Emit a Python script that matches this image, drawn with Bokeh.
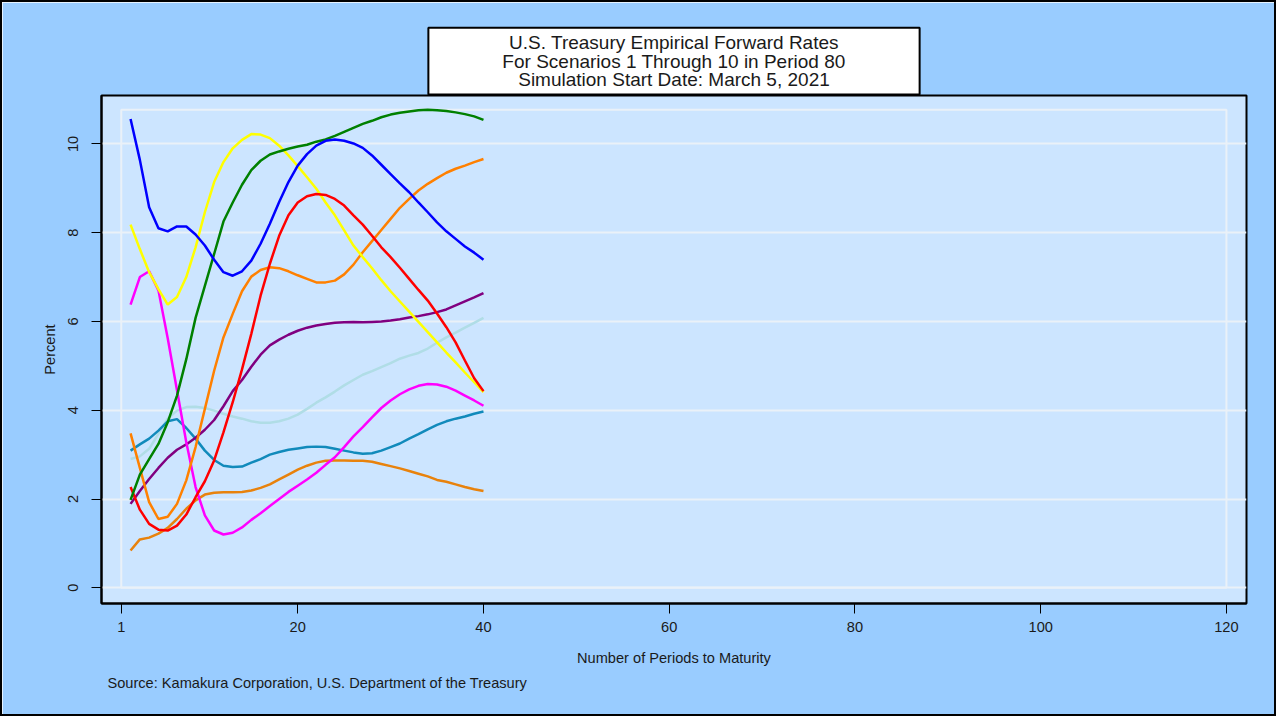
from bokeh.plotting import figure
from bokeh.models import FixedTicker, Title, Range1d
from bokeh.embed import file_html
from bokeh.resources import INLINE

# Forward rate curves for ten scenarios, periods 2..40
periods = list(range(2, 41))

scen_blue = [10.56, 9.64, 8.57, 8.10, 8.03, 8.14, 8.14, 7.96, 7.71, 7.39,
             7.11, 7.03, 7.13, 7.37, 7.75, 8.20, 8.69, 9.14, 9.51, 9.77,
             9.96, 10.07, 10.10, 10.07, 10.01, 9.91, 9.74, 9.53, 9.32, 9.11,
             8.91, 8.68, 8.46, 8.23, 8.03, 7.86, 7.69, 7.55, 7.39]
scen_yellow = [8.18, 7.63, 7.11, 6.73, 6.38, 6.55, 7.00, 7.67, 8.46, 9.14,
               9.59, 9.90, 10.09, 10.22, 10.21, 10.13, 9.96, 9.74, 9.50, 9.25,
               8.99, 8.68, 8.39, 8.05, 7.71, 7.45, 7.20, 6.93, 6.68, 6.45,
               6.22, 5.99, 5.76, 5.53, 5.30, 5.08, 4.85, 4.63, 4.41]
scen_magenta = [6.38, 7.00, 7.13, 6.70, 5.62, 4.45, 3.28, 2.27, 1.63, 1.29,
                1.20, 1.24, 1.36, 1.53, 1.68, 1.84, 2.00, 2.16, 2.30, 2.44,
                2.59, 2.77, 2.94, 3.17, 3.41, 3.62, 3.84, 4.05, 4.22, 4.36,
                4.47, 4.55, 4.59, 4.58, 4.53, 4.44, 4.33, 4.22, 4.10]
scen_green = [1.98, 2.55, 2.90, 3.24, 3.73, 4.33, 5.15, 6.08, 6.80, 7.52,
              8.25, 8.68, 9.08, 9.41, 9.62, 9.76, 9.83, 9.89, 9.94, 9.98,
              10.05, 10.10, 10.18, 10.27, 10.36, 10.45, 10.52, 10.60, 10.66, 10.70,
              10.73, 10.76, 10.77, 10.76, 10.74, 10.71, 10.67, 10.62, 10.54]
scen_red = [2.27, 1.76, 1.44, 1.31, 1.29, 1.40, 1.65, 2.04, 2.40, 2.87,
            3.50, 4.18, 4.92, 5.72, 6.58, 7.30, 7.93, 8.39, 8.68, 8.82,
            8.87, 8.85, 8.76, 8.61, 8.39, 8.18, 7.93, 7.67, 7.45, 7.21,
            6.96, 6.71, 6.47, 6.18, 5.87, 5.53, 5.12, 4.72, 4.43]
scen_orange = [3.48, 2.70, 1.93, 1.55, 1.60, 1.89, 2.42, 3.17, 4.03, 4.89,
               5.64, 6.17, 6.68, 7.01, 7.16, 7.22, 7.20, 7.13, 7.04, 6.96,
               6.88, 6.88, 6.92, 7.06, 7.28, 7.56, 7.81, 8.06, 8.31, 8.56,
               8.76, 8.95, 9.10, 9.23, 9.35, 9.44, 9.51, 9.59, 9.66]
scen_darkorange = [0.84, 1.09, 1.13, 1.22, 1.35, 1.55, 1.78, 1.97, 2.10, 2.14,
                   2.15, 2.15, 2.16, 2.19, 2.25, 2.33, 2.44, 2.55, 2.66, 2.75,
                   2.82, 2.86, 2.87, 2.87, 2.86, 2.86, 2.84, 2.79, 2.74, 2.69,
                   2.63, 2.57, 2.51, 2.43, 2.39, 2.33, 2.27, 2.22, 2.18]
scen_purple = [1.89, 2.18, 2.45, 2.70, 2.93, 3.11, 3.23, 3.38, 3.56, 3.78,
               4.09, 4.43, 4.68, 4.98, 5.25, 5.46, 5.59, 5.70, 5.79, 5.86,
               5.91, 5.94, 5.97, 5.98, 5.99, 5.98, 5.99, 6.00, 6.02, 6.05,
               6.09, 6.12, 6.16, 6.21, 6.27, 6.36, 6.45, 6.54, 6.64]
scen_lightblue = [2.90, 2.96, 3.13, 3.47, 3.81, 3.99, 4.07, 4.08, 4.05, 3.99,
                  3.92, 3.86, 3.81, 3.75, 3.72, 3.72, 3.75, 3.81, 3.90, 4.03,
                  4.17, 4.29, 4.42, 4.56, 4.68, 4.80, 4.88, 4.97, 5.06, 5.16,
                  5.23, 5.29, 5.39, 5.52, 5.64, 5.75, 5.86, 5.97, 6.08]
scen_teal = [3.09, 3.23, 3.36, 3.54, 3.75, 3.80, 3.60, 3.36, 3.09, 2.88,
             2.75, 2.72, 2.73, 2.82, 2.90, 3.00, 3.06, 3.11, 3.14, 3.17,
             3.18, 3.17, 3.13, 3.09, 3.05, 3.02, 3.03, 3.09, 3.17, 3.25,
             3.36, 3.46, 3.57, 3.67, 3.75, 3.81, 3.86, 3.92, 3.97]

series = [
    (scen_lightblue, "#B0DDE6"),
    (scen_teal, "#118ABB"),
    (scen_darkorange, "#E8820C"),
    (scen_purple, "#800080"),
    (scen_magenta, "#FF00FF"),
    (scen_orange, "#FF8000"),
    (scen_yellow, "#FFFF00"),
    (scen_red, "#FF0000"),
    (scen_green, "#008000"),
    (scen_blue, "#0000FF"),
]

x_ticks = [1, 20, 40, 60, 80, 100, 120]
y_ticks = [0, 2, 4, 6, 8, 10]

title_lines = [
    "U.S. Treasury Empirical Forward Rates",
    "For Scenarios 1 Through 10 in Period 80",
    "Simulation Start Date: March 5, 2021",
]

FONT = "Liberation Sans"
TXT = "#1a1a1a"
GRID = "#EAF1F8"
FS = "14.6px"

p = figure(width=1276, height=716, output_backend="svg", toolbar_location=None,
           x_range=Range1d(-1.13, 122.16), y_range=Range1d(-0.354, 11.09),
           min_border_left=99, min_border_right=32, min_border_top=93,
           min_border_bottom=115,
           background_fill_color="#CCE5FF", border_fill_color="#99CCFF",
           outline_line_color="black", outline_line_width=2)
p.styles = {"border": "2px solid black"}

# boxed chart heading centred over the frame
p.title = Title(text="\n".join(title_lines), align="center", text_align="center",
                text_font=FONT, text_font_size="19px", text_font_style="normal",
                text_color=TXT, text_line_height=0.9,
                background_fill_color="white", border_line_color="black",
                border_line_width=2, padding=(74, 74, 4, 4), standoff=2)

p.xgrid.visible = False
p.ygrid.ticker = FixedTicker(ticks=y_ticks)
p.ygrid.grid_line_color = GRID
p.ygrid.grid_line_width = 2

# light bounding box of the data domain
all_vals = [v for s, _ in series for v in s]
p.quad(left=[min(x_ticks)], right=[max(x_ticks)], bottom=[min(y_ticks)],
       top=[max(all_vals)], fill_color=None, line_color=GRID, line_width=2)

for vals, color in series:
    p.line(periods, vals, line_color=color, line_width=2.5)

for ax in (p.xaxis[0], p.yaxis[0]):
    ax.axis_line_color = "black"
    ax.axis_line_width = 2
    ax.major_tick_out = 10
    ax.major_tick_in = 0
    ax.major_tick_line_color = "black"
    ax.major_tick_line_width = 1
    ax.minor_tick_line_color = None
    ax.major_label_text_font = FONT
    ax.major_label_text_font_size = FS
    ax.major_label_text_color = TXT
    ax.axis_label_text_font = FONT
    ax.axis_label_text_font_size = FS
    ax.axis_label_text_font_style = "normal"
    ax.axis_label_text_color = TXT

p.xaxis.ticker = FixedTicker(ticks=x_ticks)
p.xaxis.axis_label = "Number of Periods to Maturity"
p.xaxis.major_label_standoff = 8
p.xaxis.axis_label_standoff = 15

p.yaxis.ticker = FixedTicker(ticks=y_ticks)
p.yaxis.axis_label = "Percent"
p.yaxis.major_label_orientation = "vertical"
p.yaxis.major_label_standoff = 13
p.yaxis.axis_label_standoff = 8

p.add_layout(Title(text="Source: Kamakura Corporation, U.S. Department of the Treasury",
                   align="left", offset=6, standoff=8, text_font=FONT,
                   text_font_size=FS, text_font_style="normal",
                   text_color=TXT), "below")

open("out.html", "w").write(file_html(p, INLINE))
